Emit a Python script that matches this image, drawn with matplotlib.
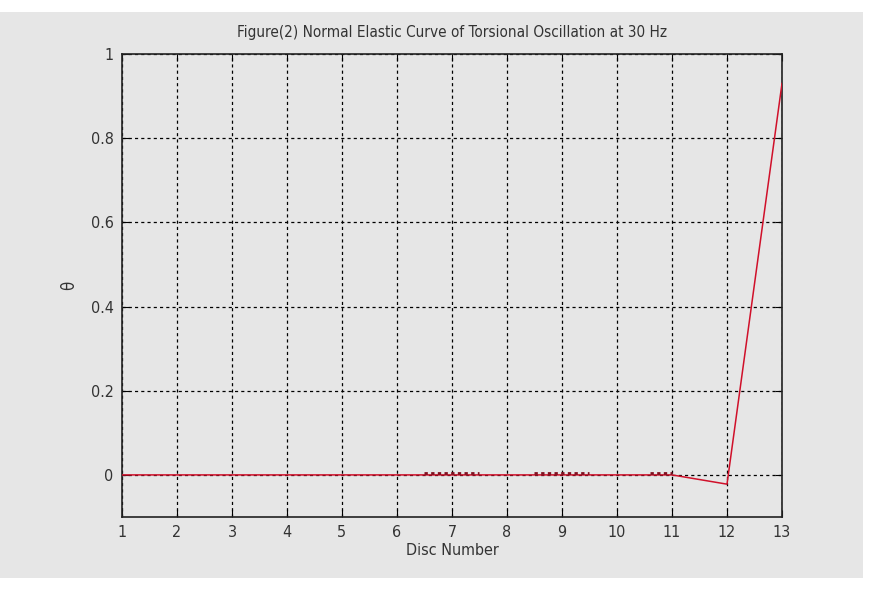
import matplotlib.pyplot as plt
from matplotlib.patches import Rectangle

# normal elastic curve, one value per disc
discs = [1, 2, 3, 4, 5, 6, 7, 8, 9, 10, 11, 12, 13]
theta = [0, 0, 0, 0, 0, 0, 0, 0, 0, 0, 0, -0.022, 0.93]

# small dotted segments near the axis (discs 7, 9, 11)
seg_x = [[6.5, 7.5], [8.5, 9.5], [10.6, 11.0]]
seg_y = [0.004, 0.004]

xticks = list(range(1, 14))
yticks = [0, 0.2, 0.4, 0.6, 0.8, 1]
ytick_labels = ['0', '0.2', '0.4', '0.6', '0.8', '1']

font = ['Liberation Sans Narrow', 'DejaVu Sans']
bg = '#e6e6e6'
txt = dict(family=font, stretch='condensed', color='#333333')

fig = plt.figure(figsize=(8.87, 6.11), dpi=100, facecolor='white')
fig.patches.append(Rectangle((0, 1 - 578 / 611), 863 / 887, (578 - 12) / 611,
                             transform=fig.transFigure, facecolor=bg,
                             edgecolor='none', zorder=-5))

ax = fig.add_axes([122 / 887, 1 - 517 / 611, (782 - 122) / 887, (517 - 54) / 611])
ax.set_zorder(2)
ax.set_facecolor(bg)

ax.plot(discs, theta, color='#d0102a', lw=1.1, zorder=3)
for sx in seg_x:
    ax.plot(sx, seg_y, color='#801020', lw=2.0, ls=(0, (1.2, 1.2)), zorder=3)

ax.set_xlim(1, 13)
ax.set_ylim(-0.1, 1)
ax.set_xticks(xticks)
ax.set_yticks(yticks)
ax.set_yticklabels(ytick_labels)
ax.tick_params(direction='in', length=5, colors='black', labelsize=11.5, pad=6,
               top=True, right=True)
for lab in ax.get_xticklabels() + ax.get_yticklabels():
    lab.set_family(font)
    lab.set_stretch('condensed')
    lab.set_color('#333333')

ax.grid(True, color='black', ls=(0, (2.5, 2.5)), lw=0.9)
for sp in ax.spines.values():
    sp.set_color('#222222')
    sp.set_linewidth(1.2)

ax.set_title('Figure(2) Normal Elastic Curve of Torsional Oscillation at 30 Hz',
             fontsize=11, pad=12, **txt)
ax.set_xlabel('Disc Number', fontsize=11.5, labelpad=2, **txt)
ax.set_ylabel('θ', fontsize=12, labelpad=9, **txt)

fig.savefig('out.png', dpi=100, facecolor='white')
